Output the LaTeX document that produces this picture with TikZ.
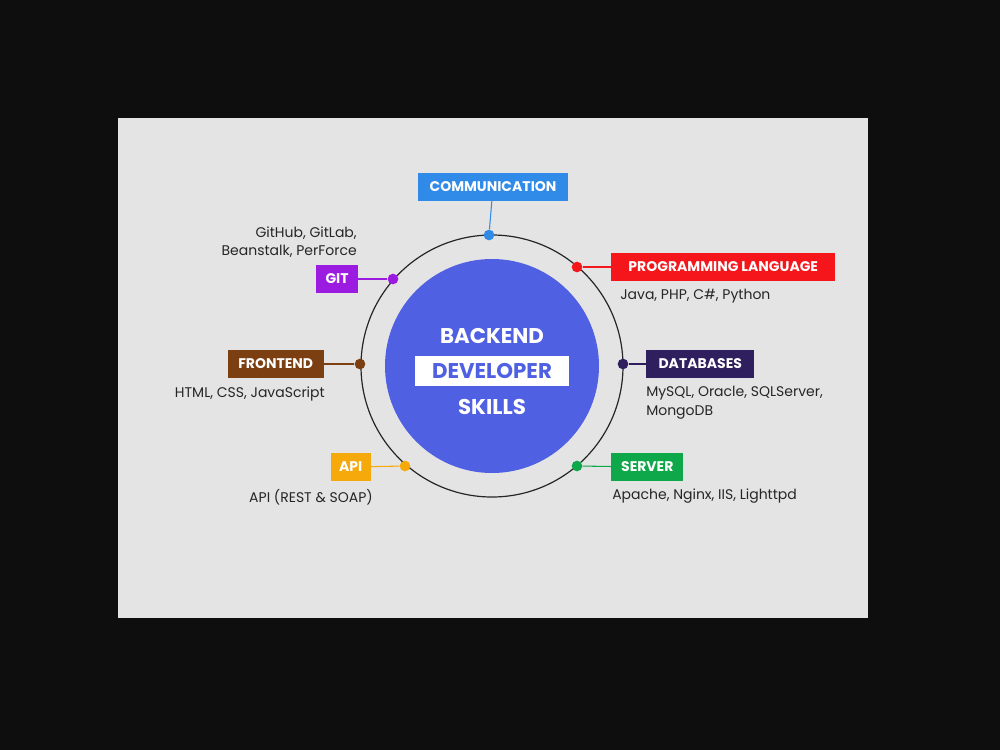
\documentclass[tikz,border=0pt]{standalone}
\usepackage{fontspec}
\setmainfont{Poppins}
\definecolor{bgdark}{HTML}{0E0E0E}
\definecolor{panel}{HTML}{E4E4E4}
\definecolor{hub}{HTML}{5060E2}
\definecolor{comm}{HTML}{2F8AE8}
\definecolor{prog}{HTML}{F5161B}
\definecolor{dbase}{HTML}{2F1F5E}
\definecolor{serv}{HTML}{0EA84A}
\definecolor{apic}{HTML}{F5A90A}
\definecolor{front}{HTML}{7B3F12}
\definecolor{gitc}{HTML}{9B1BE0}
\tikzset{
  skillbox/.style={fill=#1, text=white, font=\bfseries\fontsize{10.5}{12}\selectfont, inner sep=0pt, minimum height=21pt},
  dot/.style={circle, fill=#1, inner sep=0pt, minimum size=8pt},
  link/.style={draw=#1, line width=0.8pt},
  detail/.style={font=\fontsize{10.5}{14}\selectfont, text=black!85, inner sep=0pt, align=#1}
}
\begin{document}
\begin{tikzpicture}[x=0.75pt,y=-0.75pt]
  \fill[bgdark] (0,0) rectangle (1000,750);
  \fill[panel] (118,118) rectangle (868,618);
  % hub
  \draw[black!85, line width=0.9pt] (492,366) circle [radius=131];
  \node[circle, fill=hub, minimum size=160.5pt, inner sep=0pt] (Hub) at (492,366) {};
  \node[text=white, font=\bfseries\fontsize{16}{18}\selectfont] (Back) at (492,336) {BACKEND};
  \node[fill=white, text=hub, font=\bfseries\fontsize{16}{18}\selectfont, minimum width=115pt, minimum height=22pt, inner sep=0pt] (Dev) at (492,371) {DEVELOPER};
  \node[text=white, font=\bfseries\fontsize{16}{18}\selectfont] (Skills) at (492,407) {SKILLS};
  % communication
  \node[dot=comm] (dComm) at (489,235) {};
  \node[skillbox=comm, minimum width=112pt] (Comm) at (493,187) {COMMUNICATION};
  \draw[link=comm] (dComm) -- (Comm);
  % programming language
  \node[dot=prog] (dProg) at (577,267) {};
  \node[skillbox=prog, minimum width=168pt, anchor=west] (Prog) at (611,267) {PROGRAMMING LANGUAGE};
  \draw[link=prog] (dProg) -- (Prog);
  \node[detail=left, anchor=north west] (tProg) at (620,289) {Java, PHP, C\#, Python};
  % databases
  \node[dot=dbase] (dDb) at (623,364) {};
  \node[skillbox=dbase, minimum width=81pt, anchor=west] (Db) at (646,364) {DATABASES};
  \draw[link=dbase] (dDb) -- (Db);
  \node[detail=left, anchor=north west] (tDb) at (646,386) {MySQL, Oracle, SQLServer,\\MongoDB};
  % server
  \node[dot=serv] (dServ) at (577,466) {};
  \node[skillbox=serv, minimum width=54pt, anchor=west] (Serv) at (611,467) {SERVER};
  \draw[link=serv] (dServ) -- (Serv);
  \node[detail=left, anchor=north west] (tServ) at (612,489) {Apache, Nginx, IIS, Lighttpd};
  % api
  \node[dot=apic] (dApi) at (405,466) {};
  \node[skillbox=apic, minimum width=30pt, anchor=east] (Api) at (371,467) {API};
  \draw[link=apic] (dApi) -- (Api);
  \node[detail=right, anchor=north east] (tApi) at (373,489) {API (REST \& SOAP)};
  % frontend
  \node[dot=front] (dFront) at (360,364) {};
  \node[skillbox=front, minimum width=72pt, anchor=east] (Front) at (324,364) {FRONTEND};
  \draw[link=front] (dFront) -- (Front);
  \node[detail=right, anchor=north east] (tFront) at (325,387) {HTML, CSS, JavaScript};
  % git
  \node[dot=gitc] (dGit) at (393,279) {};
  \node[skillbox=gitc, minimum width=31pt, anchor=east] (Git) at (358,279) {GIT};
  \draw[link=gitc] (dGit) -- (Git);
  \node[detail=right, anchor=south east] (tGit) at (357,258) {GitHub, GitLab,\\Beanstalk, PerForce};
\end{tikzpicture}
\end{document}
